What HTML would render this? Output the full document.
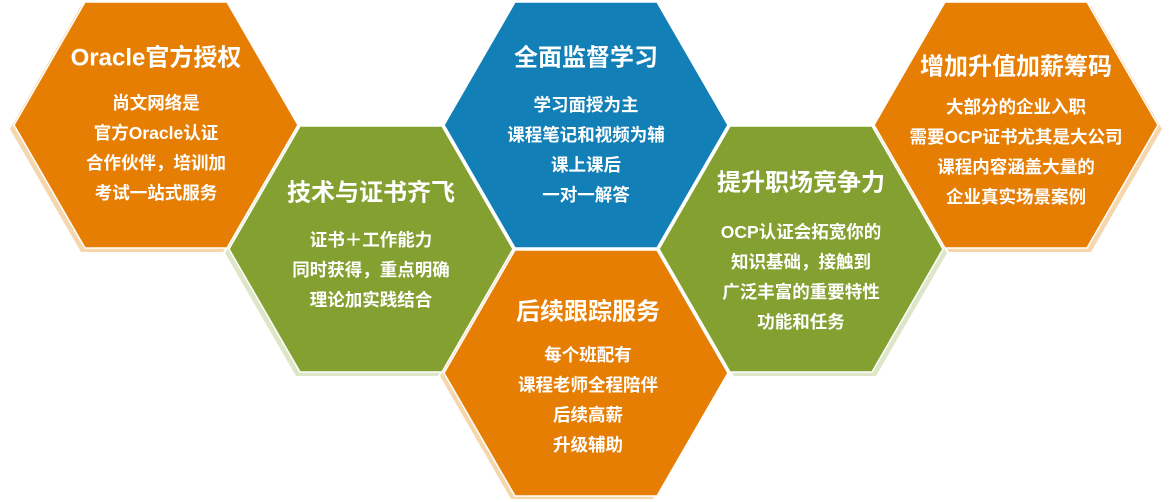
<!DOCTYPE html>
<html><head><meta charset="utf-8"><style>
html,body{margin:0;padding:0;background:#fff;}
svg{display:block;}
text{font-family:"Liberation Sans","Noto Sans CJK SC",sans-serif;font-weight:bold;fill:#fff;text-anchor:middle;dominant-baseline:central;}
.t{font-size:24px;}
.b{font-size:17.5px;}
</style></head><body>
<svg width="1170" height="502" viewBox="0 0 1170 502" xmlns="http://www.w3.org/2000/svg">
<defs>
<polygon id="h" points="14,125 85,2 227,2 298,125 227,248 85,248"/>
</defs>
<use href="#h" transform="translate(-4,4)" fill="#f6d6ad"/>
<use href="#h" transform="translate(211,128)" fill="#dde6c6"/>
<use href="#h" transform="translate(426,251)" fill="#f6d6ad"/>
<use href="#h" transform="translate(649,128)" fill="#dde6c6"/>
<use href="#h" transform="translate(864,4)" fill="#f6d6ad"/>
<use href="#h" fill="#e67e03" stroke="#fff" stroke-width="1.5"/>
<use href="#h" transform="translate(430,0)" fill="#127fb7" stroke="#fff" stroke-width="1.5"/>
<use href="#h" transform="translate(860,0)" fill="#e67e03" stroke="#fff" stroke-width="1.5"/>
<use href="#h" transform="translate(215,124)" fill="#84a031" stroke="#fff" stroke-width="1.5"/>
<use href="#h" transform="translate(645,124)" fill="#84a031" stroke="#fff" stroke-width="1.5"/>
<use href="#h" transform="translate(430,248)" fill="#e67e03" stroke="#fff" stroke-width="1.5"/>

<text class="t" x="156" y="58">Oracle官方授权</text>
<text class="b" x="156" y="103">尚文网络是</text>
<text class="b" x="156" y="133">官方Oracle认证</text>
<text class="b" x="156" y="163">合作伙伴，培训加</text>
<text class="b" x="156" y="193">考试一站式服务</text>

<text class="t" x="586" y="58">全面监督学习</text>
<text class="b" x="586" y="105">学习面授为主</text>
<text class="b" x="586" y="135">课程笔记和视频为辅</text>
<text class="b" x="586" y="165">课上课后</text>
<text class="b" x="586" y="195">一对一解答</text>

<text class="t" x="1016" y="67">增加升值加薪筹码</text>
<text class="b" x="1016" y="107">大部分的企业入职</text>
<text class="b" x="1016" y="137">需要OCP证书尤其是大公司</text>
<text class="b" x="1016" y="167">课程内容涵盖大量的</text>
<text class="b" x="1016" y="197">企业真实场景案例</text>

<text class="t" x="371" y="193">技术与证书齐飞</text>
<text class="b" x="371" y="240">证书＋工作能力</text>
<text class="b" x="371" y="270">同时获得，重点明确</text>
<text class="b" x="371" y="300">理论加实践结合</text>

<text class="t" x="801" y="183">提升职场竞争力</text>
<text class="b" x="801" y="232">OCP认证会拓宽你的</text>
<text class="b" x="801" y="262">知识基础，接触到</text>
<text class="b" x="801" y="292">广泛丰富的重要特性</text>
<text class="b" x="801" y="322">功能和任务</text>

<text class="t" x="588" y="312">后续跟踪服务</text>
<text class="b" x="588" y="355">每个班配有</text>
<text class="b" x="588" y="385">课程老师全程陪伴</text>
<text class="b" x="588" y="415">后续高薪</text>
<text class="b" x="588" y="445">升级辅助</text>
</svg>
</body></html>
